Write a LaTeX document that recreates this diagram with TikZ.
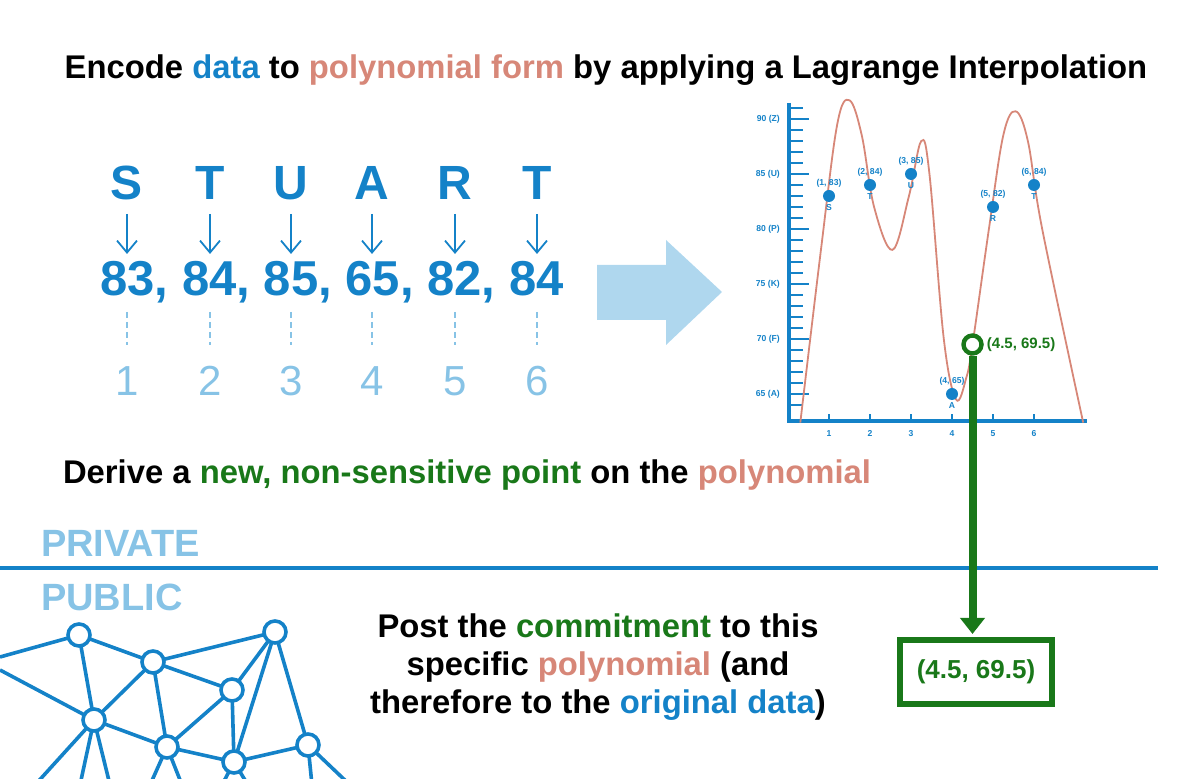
\documentclass[tikz,border=0pt]{standalone}
\usepackage{fontspec}
\setmainfont{Liberation Sans}
\usetikzlibrary{arrows.meta}
\definecolor{dblue}{RGB}{20,130,200}
\definecolor{lblue}{RGB}{135,195,230}
\definecolor{abg}{RGB}{175,215,238}
\definecolor{salmon}{RGB}{215,135,120}
\definecolor{dgreen}{RGB}{25,120,25}
\tikzset{
 lett/.style={text=dblue,font=\bfseries\fontsize{24}{28}\selectfont},
 idx/.style={text=lblue,font=\fontsize{21}{26}\selectfont},
 hd/.style={font=\bfseries\fontsize{16.4}{19}\selectfont},
 pt/.style={circle,fill=dblue,inner sep=0pt,minimum size=6pt},
 lab/.style={text=dblue,font=\bfseries\fontsize{4.3}{5}\selectfont,inner sep=0.8pt},
 net/.style={circle,draw=dblue,line width=1.8pt,fill=white,minimum size=11pt,inner sep=0pt},
 nl/.style={dblue,line width=1.8pt},
}
\begin{document}
\begin{tikzpicture}[x=0.5pt,y=-0.5pt]
\useasboundingbox (0,0) rectangle (1200,779);
\node[hd] (title) at (606,70) {Encode \textcolor{dblue}{data} to \textcolor{salmon}{polynomial form} by applying a Lagrange Interpolation};
% letters
\foreach \x/\l/\i in {127/S/1,210/T/2,291/U/3,372/A/4,455/R/5,537/T/6}{
  \node[lett] (L\i) at (\x,183) {\l};
  \draw[dblue,line width=0.9pt,-{Straight Barb[length=6pt,width=10pt]}] (\x,214) -- (\x,254);
  \draw[lblue,line width=0.8pt,dash pattern=on 3pt off 2pt] (\x,312) -- (\x,345);
  \node[idx] (I\i) at (\x,381) {\i};
}
\node[lett,font=\bfseries\fontsize{24.5}{30}\selectfont] (nums) at (332,282) {83, 84, 85, 65, 82, 84};
% big arrow
\fill[abg] (597,265) -- (666,265) -- (666,240) -- (722,292) -- (666,345) -- (666,320) -- (597,320) -- cycle;
% graph
\draw[dblue,line width=1.6pt] (789,103) -- (789,421) -- (1087,421);
\begin{scope}[shift={(788,1109)},x=20.5pt,y=5.5pt]
 \foreach \v in {64,...,91}{\draw[dblue,line width=1.4pt] (0.02,\v) -- (0.36,\v);}
 \foreach \v/\c in {65/A,70/F,75/K,80/P,85/U,90/Z}{\draw[dblue,line width=1.4pt] (0.02,\v) -- (0.5,\v); \node[lab,anchor=east] at (-0.15,\v) {\v\ (\c)};}
 \foreach \u in {1,...,6}{\draw[dblue,line width=1.3pt] (\u,62.4) -- (\u,63.2); \node[lab] at (\u,61.4) {\u};}
 \draw[salmon,line width=0.9pt] plot[smooth,tension=0.6] coordinates {(0.3,62.4) (0.8,78) (1.2,89.5) (1.5,91.7) (1.8,88.5) (2.1,82) (2.55,78.1) (2.95,83) (3.25,88) (3.45,85) (3.8,70) (4.1,64.5) (4.35,66.5) (4.5,69.5) (4.9,80) (5.25,88.5) (5.55,90.7) (5.85,88) (6.2,80) (7.2,62.4)};
 \foreach \u/\v/\c in {1/83/S,2/84/T,3/85/U,4/65/A,5/82/R,6/84/T}{
   \node[pt] (p\u) at (\u,\v) {};
   \node[lab,anchor=south] at (p\u.north) {(\u, \v)};
   \node[lab,anchor=north] at (p\u.south) {\c};}
 \node[circle,draw=dgreen,line width=2.2pt,fill=white,minimum size=9pt,inner sep=0pt] (np) at (4.5,69.5) {};
 \node[anchor=west,text=dgreen,font=\bfseries\fontsize{7.5}{9}\selectfont] (npl) at (4.68,69.5) {(4.5, 69.5)};
\end{scope}
\node[hd] (derive) at (467,475) {Derive a \textcolor{dgreen}{new, non-sensitive point} on the \textcolor{salmon}{polynomial}};
\node[text=lblue,font=\bfseries\fontsize{19}{22}\selectfont,anchor=west] (priv) at (34,543) {PRIVATE};
\node[text=lblue,font=\bfseries\fontsize{19}{22}\selectfont,anchor=west] (pub) at (34,597) {PUBLIC};
\draw[dblue,line width=2pt] (0,568) -- (1158,568);
% green
\node[draw=dgreen,line width=3pt,text=dgreen,font=\bfseries\fontsize{13}{15}\selectfont,minimum width=76pt,minimum height=32pt] (box) at (976,672) {(4.5, 69.5)};
\draw[dgreen,line width=4pt,-{Triangle[length=8pt,width=12pt]}] (np.south) -- ([yshift=1.5pt]np.south |- box.north);
% post text
\node[hd,align=center] (post) at (598,667) {Post the \textcolor{dgreen}{commitment} to this\\[0pt] specific \textcolor{salmon}{polynomial} (and\\[0pt] therefore to the \textcolor{dblue}{original data})};
% network
\foreach \n/\x/\y in {A/79/635,B/153/662,C/275/632,D/232/690,E/94/720,F/167/747,G/234/762,H/308/745}{\coordinate (c\n) at (\x,\y);}
\foreach \n/\x/\y in {l1/0/657,l2/0/670,b1/35/785,b2/80/785,b3/110/785,b4/150/785,b5/182/785,b6/222/785,b7/248/785,b8/312/785,b9/350/785}{\coordinate (\n) at (\x,\y);}
\foreach \a/\b in {l1/cA,l2/cE,cA/cB,cA/cE,cB/cC,cB/cD,cB/cE,cB/cF,cC/cD,cC/cG,cC/cH,cD/cG,cD/cF,cE/cF,cF/cG,cG/cH,cE/b1,cE/b2,cE/b3,cF/b4,cF/b5,cG/b6,cG/b7,cH/b8,cH/b9}{\draw[nl] (\a) -- (\b);}
\foreach \n in {A,B,C,D,E,F,G,H}{\node[net] (n\n) at (c\n) {};}
\end{tikzpicture}
\end{document}
